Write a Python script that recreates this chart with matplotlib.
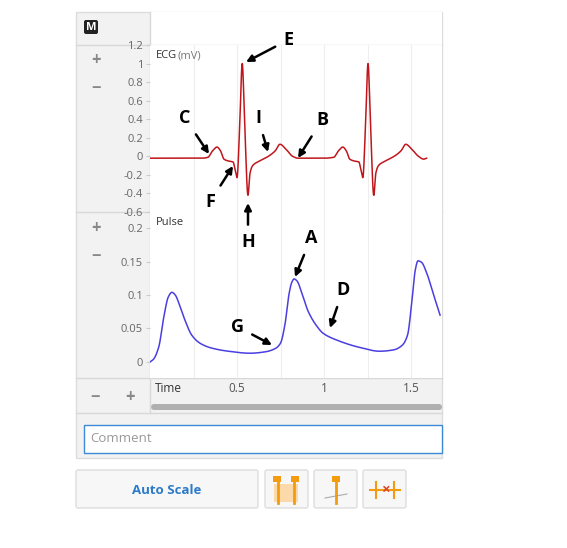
import numpy as np
import matplotlib
matplotlib.use("Agg")
import matplotlib.pyplot as plt
from matplotlib.patches import Rectangle, FancyBboxPatch

plt.rcParams['font.family'] = ['Open Sans', 'DejaVu Sans']

ecg_t = [0.0, 0.30, 0.333, 0.36, 0.385, 0.405, 0.425, 0.45, 0.477, 0.49, 0.50, 0.515, 0.53, 0.545, 0.563, 0.575, 0.59, 0.63, 0.68, 0.72, 0.747, 0.78, 0.82, 0.85, 1.0,
         1.056, 1.083, 1.108, 1.128, 1.148, 1.173, 1.20, 1.213, 1.223, 1.238, 1.253, 1.268, 1.286, 1.298, 1.313, 1.353, 1.403, 1.443, 1.47, 1.503, 1.543, 1.573, 1.59]
ecg_v = [-0.02, -0.02, -0.01, 0.06, 0.10, 0.06, -0.03, -0.05, -0.06, -0.15, -0.23, 0.30, 1.0, 0.30, -0.42, -0.18, -0.10, -0.05, 0.0, 0.06, 0.13, 0.08, 0.0, -0.02, -0.02,
         -0.01, 0.06, 0.10, 0.06, -0.03, -0.05, -0.06, -0.15, -0.23, 0.30, 1.0, 0.30, -0.42, -0.18, -0.10, -0.05, 0.0, 0.06, 0.13, 0.08, 0.0, -0.03, -0.02]

pulse_t = [0.0, 0.02, 0.05, 0.08, 0.105, 0.126, 0.145, 0.17, 0.20, 0.24, 0.287, 0.35, 0.45, 0.575, 0.66, 0.72, 0.75, 0.775, 0.80, 0.815, 0.828, 0.845, 0.87, 0.91, 0.96, 0.994, 1.08, 1.2, 1.32, 1.40, 1.45, 1.48, 1.505, 1.525, 1.54, 1.56, 1.59, 1.63, 1.667]
pulse_v = [0.0, 0.004, 0.022, 0.068, 0.097, 0.104, 0.100, 0.085, 0.063, 0.040, 0.028, 0.021, 0.016, 0.013, 0.015, 0.020, 0.028, 0.055, 0.103, 0.119, 0.124, 0.121, 0.105, 0.075, 0.053, 0.043, 0.032, 0.022, 0.016, 0.018, 0.025, 0.040, 0.090, 0.138, 0.151, 0.149, 0.133, 0.100, 0.070]

ecg_ticks = [1.2, 1, 0.8, 0.6, 0.4, 0.2, 0, -0.2, -0.4, -0.6]
ecg_ticklabels = ['1.2', '1', '0.8', '0.6', '0.4', '0.2', '0', '-0.2', '-0.4', '-0.6']
pulse_ticks = [0.2, 0.15, 0.1, 0.05, 0]
pulse_ticklabels = ['0.2', '0.15', '0.1', '0.05', '0']
time_ticks = [0.5, 1, 1.5]
time_ticklabels = ['0.5', '1', '1.5']

def pchip(x, y, n=25):
    x = np.asarray(x, float); y = np.asarray(y, float)
    h = np.diff(x); d = np.diff(y) / h
    m = np.zeros_like(y)
    for k in range(1, len(x) - 1):
        if d[k-1] * d[k] > 0:
            w1 = 2*h[k] + h[k-1]; w2 = h[k] + 2*h[k-1]
            m[k] = (w1 + w2) / (w1/d[k-1] + w2/d[k])
    m[0] = d[0]; m[-1] = d[-1]
    xs, ys = [], []
    for k in range(len(x) - 1):
        s = np.linspace(0, 1, n, endpoint=False)
        h00 = 2*s**3 - 3*s**2 + 1; h10 = s**3 - 2*s**2 + s
        h01 = -2*s**3 + 3*s**2; h11 = s**3 - s**2
        xs.append(x[k] + s*h[k])
        ys.append(h00*y[k] + h10*h[k]*m[k] + h01*y[k+1] + h11*h[k]*m[k+1])
    xs.append([x[-1]]); ys.append([y[-1]])
    return np.concatenate(xs), np.concatenate(ys)

W, H = 567, 548
fig = plt.figure(figsize=(W/100, H/100), dpi=100)

def axp(x0, y0, x1, y1, **kw):
    return fig.add_axes([x0/W, 1 - y1/H, (x1-x0)/W, (y1-y0)/H], **kw)

bg = axp(0, 0, W, H)
bg.set_xlim(0, W); bg.set_ylim(H, 0); bg.axis('off')
bg.add_patch(Rectangle((76, 12), 366, 446, fc='#f2f2f2', ec='#dddddd', lw=1))
bg.add_patch(Rectangle((150, 12), 292, 33, fc='white', ec='none'))
for yy in (45, 212, 378, 413):
    bg.plot([76, 442], [yy, yy], color='#d8d8d8', lw=1)
bg.plot([150, 150], [12, 413], color='#d8d8d8', lw=1)
bg.add_patch(FancyBboxPatch((84, 20), 14, 14, boxstyle='round,pad=0,rounding_size=2', fc='#222222', ec='none'))
bg.text(91, 27.5, 'M', color='white', fontsize=8, fontweight='bold', ha='center', va='center')
for yy, s in ((60, '+'), (88, '−'), (228, '+'), (256, '−')):
    bg.text(96, yy, s, color='#888888', fontsize=12, fontweight='bold', ha='center', va='center')
bg.text(95, 397, '−', color='#888888', fontsize=12, fontweight='bold', ha='center', va='center')
bg.text(130, 397, '+', color='#888888', fontsize=12, fontweight='bold', ha='center', va='center')
bg.add_patch(FancyBboxPatch((151, 404), 291, 6, boxstyle='round,pad=0,rounding_size=3', fc='#b0b0b0', ec='none'))
bg.text(155, 388, 'Time', color='#333333', fontsize=8.5, va='center')
bg.add_patch(Rectangle((84, 425), 358, 28, fc='white', ec='#3a8ad6', lw=1))
bg.text(90, 439, 'Comment', color='#999999', fontsize=9.5, va='center')
for x0, w in ((76, 182), (265, 43), (314, 43), (363, 43)):
    bg.add_patch(FancyBboxPatch((x0, 470), w, 38, boxstyle='round,pad=0,rounding_size=2', fc='#f7f7f7', ec='#dddddd', lw=1))
bg.text(167, 490, 'Auto Scale', color='#2d7bc8', fontsize=9.5, fontweight='bold', ha='center', va='center')
o = '#f39c12'
bg.add_patch(Rectangle((274, 484), 24, 18, fc='#fbd9a8', ec='none'))
bg.plot([278, 278], [478, 503], color=o, lw=2); bg.plot([294, 294], [478, 503], color=o, lw=2)
bg.add_patch(Rectangle((273, 476), 8, 6, fc=o)); bg.add_patch(Rectangle((291, 476), 8, 6, fc=o))
bg.plot([325, 347], [498, 494], color='#aaaaaa', lw=0.8)
bg.plot([336, 336], [478, 503], color=o, lw=2); bg.add_patch(Rectangle((332, 476), 8, 6, fc=o))
bg.plot([370, 400], [490, 490], color=o, lw=1.5)
bg.plot([376, 376], [482, 498], color=o, lw=1.5); bg.plot([394, 394], [482, 498], color=o, lw=1.5)
bg.text(385, 490, '×', color='#d9432b', fontsize=11, fontweight='bold', ha='center', va='center')
for x, lab in zip(time_ticks, time_ticklabels):
    bg.text(150 + 174*x, 388, lab, color='#555555', fontsize=8.5, ha='center', va='center')

def style(ax, ticks, labels, ylim):
    ax.set_facecolor('white')
    ax.set_xlim(0, 292/174)
    ax.set_ylim(*ylim)
    ax.set_yticks(ticks); ax.set_yticklabels(labels, color='#666666', fontsize=8)
    ax.tick_params(axis='y', length=3, color='#cccccc', pad=2)
    ax.set_xticks([])
    for x in np.arange(0.25, 1.7, 0.25):
        ax.axvline(x, color='#eeeeee', lw=0.8, zorder=0)
    for s in ax.spines.values():
        s.set_visible(False)

ax1 = axp(150, 45, 442, 212)
style(ax1, ecg_ticks, ecg_ticklabels, (-0.59, 1.2))
tx, vy = pchip(ecg_t, ecg_v)
ax1.plot(tx, vy, color='#c0161b', lw=1.1)
ax1.text(0.02, 0.97, 'ECG', transform=ax1.transAxes, fontsize=8, color='#333333', va='top')
ax1.text(0.095, 0.97, '(mV)', transform=ax1.transAxes, fontsize=8, color='#777777', va='top')

ax2 = axp(150, 212, 442, 378)
style(ax2, pulse_ticks, pulse_ticklabels, (-0.024, 0.224))
tx, vy = pchip(pulse_t, pulse_v)
ax2.plot(tx, vy, color='#4a3ee0', lw=1.1)
ax2.text(0.02, 0.97, 'Pulse', transform=ax2.transAxes, fontsize=8, color='#333333', va='top')

ov = axp(0, 0, W, H)
ov.set_xlim(0, W); ov.set_ylim(H, 0); ov.axis('off')
ann = [('E', (288, 40), (246, 62)), ('C', (185, 118), (209, 154)), ('I', (258, 118), (268, 152)),
       ('B', (322, 120), (298, 158)), ('F', (210, 202), (233, 166)), ('H', (248, 242), (248, 203)),
       ('A', (311, 238), (295, 277)), ('D', (343, 290), (330, 328)), ('G', (238, 327), (272, 345))]
for lab, (tx_, ty_), tip in ann:
    ov.annotate(lab, xy=tip, xytext=(tx_, ty_), fontsize=13, fontweight='bold', ha='center', va='center',
                arrowprops=dict(arrowstyle='-|>', color='black', lw=1.8, mutation_scale=10, shrinkA=4, shrinkB=0))

fig.savefig('out.png', dpi=100)
